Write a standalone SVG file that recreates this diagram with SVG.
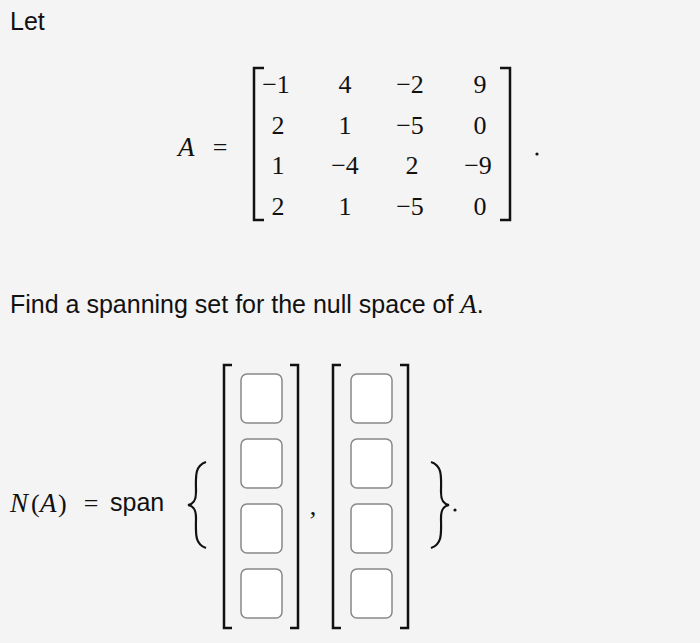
<svg xmlns="http://www.w3.org/2000/svg" width="700" height="643" viewBox="0 0 700 643">
<style>
.s{font-family:"Helvetica","Liberation Sans",Arial,sans-serif;font-size:25px;fill:#111}
.m{font-family:"Liberation Serif","Times New Roman",serif;font-size:26px;fill:#111;text-anchor:middle}
.i{font-family:"Liberation Serif","Times New Roman",serif;font-size:27px;font-style:italic;fill:#111}
.b{fill:none;stroke:#111;stroke-width:2.5}
.bx{fill:#fff;stroke:#888;stroke-width:1.5}
</style>
<rect width="700" height="643" fill="#f4f4f4"/>
<text class="s" x="10" y="30">Let</text>
<text class="i" x="178" y="156">A</text>
<text class="m" x="220" y="156">=</text>
<path class="b" d="M264,68 H254 V220 H264"/>
<path class="b" d="M500,68 H510 V220 H500"/>
<g class="m">
<text x="276" y="93">−1</text><text x="345" y="93">4</text><text x="410" y="93">−2</text><text x="480" y="93">9</text>
<text x="278" y="134">2</text><text x="345" y="134">1</text><text x="410" y="134">−5</text><text x="480" y="134">0</text>
<text x="278" y="174">1</text><text x="345" y="174">−4</text><text x="412" y="174">2</text><text x="478" y="174">−9</text>
<text x="278" y="215">2</text><text x="345" y="215">1</text><text x="410" y="215">−5</text><text x="480" y="215">0</text>
</g>
<circle cx="537" cy="154" r="1.6" fill="#111"/>
<text class="s" x="10" y="313">Find a spanning set for the null space of <tspan class="i">A</tspan>.</text>
<text class="i" x="10" y="512">N</text>
<text class="m" x="31" y="512" style="text-anchor:start">(</text>
<text class="i" x="40" y="512">A</text>
<text class="m" x="58" y="512" style="text-anchor:start">)</text>
<text class="m" x="91" y="512">=</text>
<text class="s" x="110" y="511">span</text>
<path d="M206,462 C194,466 196,478 196,492 C196,500 194,504 188,505 C194,506 196,510 196,518 C196,532 194,544 206,548" fill="none" stroke="#111" stroke-width="2.2"/>
<path d="M431,462 C443,466 441,478 441,492 C441,500 443,504 449,505 C443,506 441,510 441,518 C441,532 443,544 431,548" fill="none" stroke="#111" stroke-width="2.2"/>
<circle cx="455" cy="510" r="1.6" fill="#111"/>
<text class="m" x="313" y="515">,</text>
<path class="b" d="M232,365 H224 V628 H232"/>
<path class="b" d="M290,365 H298 V628 H290"/>
<path class="b" d="M341,365 H333 V628 H341"/>
<path class="b" d="M400,365 H408 V628 H400"/>
<g id="v1">
<rect class="bx" x="241" y="374" width="41" height="49" rx="6"/>
<rect class="bx" x="241" y="439" width="41" height="49" rx="6"/>
<rect class="bx" x="241" y="504" width="41" height="49" rx="6"/>
<rect class="bx" x="241" y="569" width="41" height="49" rx="6"/>
</g>
<g id="v2">
<rect class="bx" x="351" y="374" width="41" height="49" rx="6"/>
<rect class="bx" x="351" y="439" width="41" height="49" rx="6"/>
<rect class="bx" x="351" y="504" width="41" height="49" rx="6"/>
<rect class="bx" x="351" y="569" width="41" height="49" rx="6"/>
</g>
</svg>
